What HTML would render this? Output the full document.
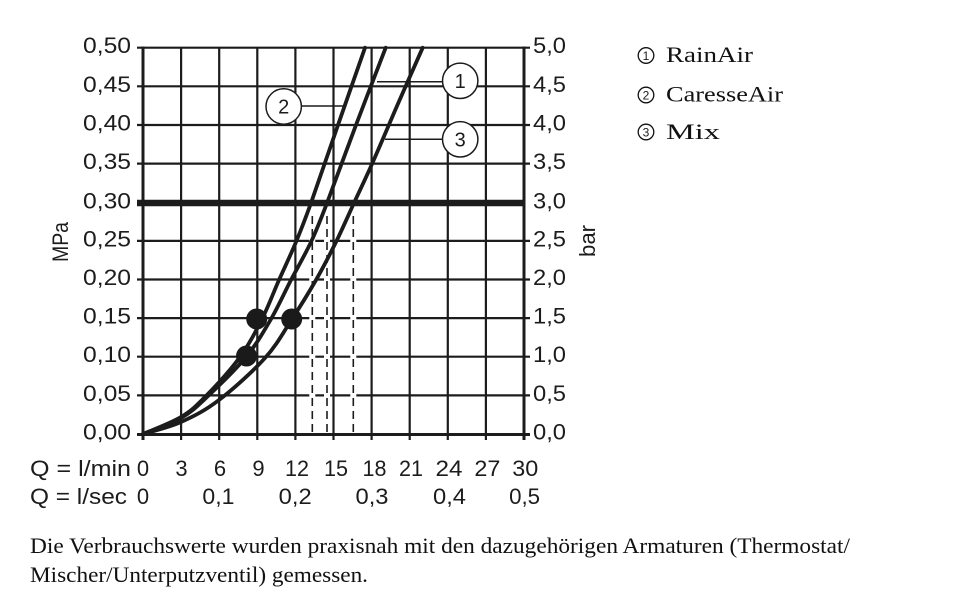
<!DOCTYPE html>
<html>
<head>
<meta charset="utf-8">
<style>
  html,body{margin:0;padding:0;background:#fff;}
  body{width:960px;height:612px;overflow:hidden;}
  svg{display:block;}
  .ax{font-family:"Liberation Sans",sans-serif;font-size:22px;fill:#1c1c1c;}
  .sr{font-family:"Liberation Serif",serif;font-size:22px;fill:#111;}
</style>
</head>
<body>
<svg width="960" height="612" viewBox="0 0 960 612" xmlns="http://www.w3.org/2000/svg">
  <rect width="960" height="612" fill="#fff"/>
  <!-- grid -->
  <g stroke="#1c1c1c" stroke-width="2.2" fill="none">
    <line x1="181.1" y1="47.7" x2="181.1" y2="440"/>
    <line x1="219.2" y1="47.7" x2="219.2" y2="440"/>
    <line x1="257.3" y1="47.7" x2="257.3" y2="440"/>
    <line x1="295.4" y1="47.7" x2="295.4" y2="440"/>
    <line x1="333.5" y1="47.7" x2="333.5" y2="440"/>
    <line x1="371.6" y1="47.7" x2="371.6" y2="440"/>
    <line x1="409.7" y1="47.7" x2="409.7" y2="440"/>
    <line x1="447.8" y1="47.7" x2="447.8" y2="440"/>
    <line x1="485.9" y1="47.7" x2="485.9" y2="440"/>
    <line x1="137" y1="86.3" x2="530" y2="86.3"/>
    <line x1="137" y1="125" x2="530" y2="125"/>
    <line x1="137" y1="163.6" x2="530" y2="163.6"/>
    <line x1="137" y1="240.9" x2="530" y2="240.9"/>
    <line x1="137" y1="279.5" x2="530" y2="279.5"/>
    <line x1="137" y1="318.1" x2="530" y2="318.1"/>
    <line x1="137" y1="356.7" x2="530" y2="356.7"/>
    <line x1="137" y1="395.4" x2="530" y2="395.4"/>
    <line x1="137" y1="47.7" x2="530" y2="47.7"/>
  </g>
  <!-- white halos for dashed lines -->
  <g stroke="#fff" stroke-width="6" fill="none">
    <line x1="312.3" y1="208" x2="312.3" y2="432"/>
    <line x1="327" y1="208" x2="327" y2="432"/>
    <line x1="353.3" y1="208" x2="353.3" y2="432"/>
  </g>
  <g stroke="#1c1c1c" stroke-width="1.6" fill="none" stroke-dasharray="8 5">
    <line x1="312.3" y1="216" x2="312.3" y2="434"/>
    <line x1="327" y1="216" x2="327" y2="434"/>
    <line x1="353.3" y1="216" x2="353.3" y2="434"/>
  </g>
  <!-- frame -->
  <g stroke="#1c1c1c" stroke-width="3" fill="none">
    <line x1="143" y1="46.5" x2="143" y2="440"/>
    <line x1="524" y1="46.5" x2="524" y2="440"/>
    <line x1="137" y1="434.5" x2="530" y2="434.5"/>
  </g>
  <!-- bold 0.30 line -->
  <line x1="137" y1="203" x2="524" y2="203" stroke="#1c1c1c" stroke-width="6.5"/>

  <!-- curves -->
  <g stroke="#1c1c1c" stroke-width="3.8" fill="none" stroke-linecap="round">
    <path d="M143,434 C149.3,431.2 170.5,423.3 181,417 C191.5,410.7 196.2,406 206,396 C215.8,386 230.7,369.8 240,357 C249.3,344.2 255.5,331.8 262,319 C268.5,306.2 273.3,292.8 279,280 C284.7,267.2 290.7,254.8 296,242 C301.3,229.2 304,222.5 311,203 C318,183.5 329,150.9 338,125 C347,99.1 360.5,60.6 365,47.7"/>
    <path d="M143,434 C149.3,431.3 170.3,424.2 181,418 C191.7,411.8 196.2,407.2 207,397 C217.8,386.8 235.3,370 246,357 C256.7,344 263.5,331.8 271,319 C278.5,306.2 284.3,292.8 291,280 C297.7,267.2 305,254.8 311,242 C317,229.2 319.5,222.5 327,203 C334.5,183.5 346.2,150.9 356,125 C365.8,99.1 380.7,60.6 385.7,47.7"/>
    <path d="M143,434 C149.3,432 168.3,427.7 181,422 C193.7,416.3 205,410.7 219,400 C233,389.3 252.8,371.5 265,358 C277.2,344.5 283.5,332 292,319 C300.5,306 308.7,292.8 316,280 C323.3,267.2 329.7,254.8 336,242 C342.3,229.2 348,216 354,203 C360,190 364.8,180.2 372,164 C379.2,147.8 388.6,125.4 397,106 C405.5,86.6 418.4,57.4 422.7,47.7"/>
  </g>
  <!-- dots -->
  <g fill="#1a1a1a">
    <circle cx="256.7" cy="319" r="10.5"/>
    <circle cx="246.5" cy="356" r="10.5"/>
    <circle cx="291.7" cy="319" r="10.5"/>
  </g>

  <!-- curve labels -->
  <g stroke="#1c1c1c" stroke-width="1.5" fill="#fff">
    <line x1="301.5" y1="106" x2="343" y2="106"/>
    <line x1="377" y1="81.7" x2="442.5" y2="81.7"/>
    <line x1="385" y1="139.3" x2="442.5" y2="139.3"/>
    <circle cx="283.7" cy="106.5" r="17.7"/>
    <circle cx="460.2" cy="80.8" r="17.7"/>
    <circle cx="460.2" cy="139.3" r="17.7"/>
  </g>
  <g class="ax" style="font-size:20px" text-anchor="middle">
    <text x="283.7" y="113.6">2</text>
    <text x="460.2" y="87.9">1</text>
    <text x="460.2" y="146.4">3</text>
  </g>

  <!-- left ticks labels -->
  <g class="ax" text-anchor="end">
    <text x="131" y="53.2" textLength="48" lengthAdjust="spacingAndGlyphs">0,50</text>
    <text x="131" y="91.8" textLength="48" lengthAdjust="spacingAndGlyphs">0,45</text>
    <text x="131" y="130.5" textLength="48" lengthAdjust="spacingAndGlyphs">0,40</text>
    <text x="131" y="169.1" textLength="48" lengthAdjust="spacingAndGlyphs">0,35</text>
    <text x="131" y="208.5" textLength="48" lengthAdjust="spacingAndGlyphs">0,30</text>
    <text x="131" y="246.4" textLength="48" lengthAdjust="spacingAndGlyphs">0,25</text>
    <text x="131" y="285" textLength="48" lengthAdjust="spacingAndGlyphs">0,20</text>
    <text x="131" y="323.6" textLength="48" lengthAdjust="spacingAndGlyphs">0,15</text>
    <text x="131" y="362.2" textLength="48" lengthAdjust="spacingAndGlyphs">0,10</text>
    <text x="131" y="400.9" textLength="48" lengthAdjust="spacingAndGlyphs">0,05</text>
    <text x="131" y="439.5" textLength="48" lengthAdjust="spacingAndGlyphs">0,00</text>
  </g>
  <!-- right labels -->
  <g class="ax">
    <text x="533" y="53.2" textLength="33" lengthAdjust="spacingAndGlyphs">5,0</text>
    <text x="533" y="91.8" textLength="33" lengthAdjust="spacingAndGlyphs">4,5</text>
    <text x="533" y="130.5" textLength="33" lengthAdjust="spacingAndGlyphs">4,0</text>
    <text x="533" y="169.1" textLength="33" lengthAdjust="spacingAndGlyphs">3,5</text>
    <text x="533" y="208.5" textLength="33" lengthAdjust="spacingAndGlyphs">3,0</text>
    <text x="533" y="246.4" textLength="33" lengthAdjust="spacingAndGlyphs">2,5</text>
    <text x="533" y="285" textLength="33" lengthAdjust="spacingAndGlyphs">2,0</text>
    <text x="533" y="323.6" textLength="33" lengthAdjust="spacingAndGlyphs">1,5</text>
    <text x="533" y="362.2" textLength="33" lengthAdjust="spacingAndGlyphs">1,0</text>
    <text x="533" y="400.9" textLength="33" lengthAdjust="spacingAndGlyphs">0,5</text>
    <text x="533" y="439.5" textLength="33" lengthAdjust="spacingAndGlyphs">0,0</text>
  </g>
  <!-- axis titles -->
  <text class="ax" transform="translate(68,242) rotate(-90)" text-anchor="middle" textLength="40" lengthAdjust="spacingAndGlyphs">MPa</text>
  <text class="ax" transform="translate(595,241) rotate(-90)" text-anchor="middle" textLength="32" lengthAdjust="spacingAndGlyphs">bar</text>

  <!-- bottom labels -->
  <g class="ax">
    <text x="30" y="476" textLength="101" lengthAdjust="spacingAndGlyphs">Q = l/min</text>
    <text x="30" y="504" textLength="97" lengthAdjust="spacingAndGlyphs">Q = l/sec</text>
  </g>
  <g class="ax" text-anchor="middle">
    <text x="143" y="476">0</text>
    <text x="181.5" y="476">3</text>
    <text x="220" y="476">6</text>
    <text x="258.5" y="476">9</text>
    <text x="297" y="476" textLength="24" lengthAdjust="spacingAndGlyphs">12</text>
    <text x="336" y="476" textLength="24" lengthAdjust="spacingAndGlyphs">15</text>
    <text x="374.5" y="476" textLength="24" lengthAdjust="spacingAndGlyphs">18</text>
    <text x="411" y="476" textLength="24" lengthAdjust="spacingAndGlyphs">21</text>
    <text x="449" y="476" textLength="27" lengthAdjust="spacingAndGlyphs">24</text>
    <text x="487.4" y="476" textLength="26" lengthAdjust="spacingAndGlyphs">27</text>
    <text x="525.3" y="476" textLength="26" lengthAdjust="spacingAndGlyphs">30</text>

    <text x="143" y="504">0</text>
    <text x="218.4" y="504" textLength="32" lengthAdjust="spacingAndGlyphs">0,1</text>
    <text x="295.2" y="504" textLength="33" lengthAdjust="spacingAndGlyphs">0,2</text>
    <text x="372" y="504" textLength="33" lengthAdjust="spacingAndGlyphs">0,3</text>
    <text x="449.5" y="504" textLength="33" lengthAdjust="spacingAndGlyphs">0,4</text>
    <text x="524.6" y="504" textLength="31" lengthAdjust="spacingAndGlyphs">0,5</text>
  </g>

  <!-- legend -->
  <g stroke="#111" stroke-width="1.3" fill="none">
    <circle cx="646" cy="55.5" r="7.8"/>
    <circle cx="646" cy="95" r="7.8"/>
    <circle cx="646" cy="132" r="7.8"/>
  </g>
  <g class="ax" style="font-size:12px" text-anchor="middle">
    <text x="646" y="59.8">1</text>
    <text x="646" y="99.3">2</text>
    <text x="646" y="136.3">3</text>
  </g>
  <g class="sr">
    <text x="666" y="62" textLength="87" lengthAdjust="spacingAndGlyphs">RainAir</text>
    <text x="666" y="101.5" textLength="117" lengthAdjust="spacingAndGlyphs">CaresseAir</text>
    <text x="666" y="139" textLength="54" lengthAdjust="spacingAndGlyphs">Mix</text>
  </g>

  <!-- caption -->
  <g class="sr">
    <text x="30" y="553" textLength="820" lengthAdjust="spacingAndGlyphs">Die Verbrauchswerte wurden praxisnah mit den dazugehörigen Armaturen (Thermostat/</text>
    <text x="30" y="582" textLength="338" lengthAdjust="spacingAndGlyphs">Mischer/Unterputzventil) gemessen.</text>
  </g>
</svg>
</body>
</html>
